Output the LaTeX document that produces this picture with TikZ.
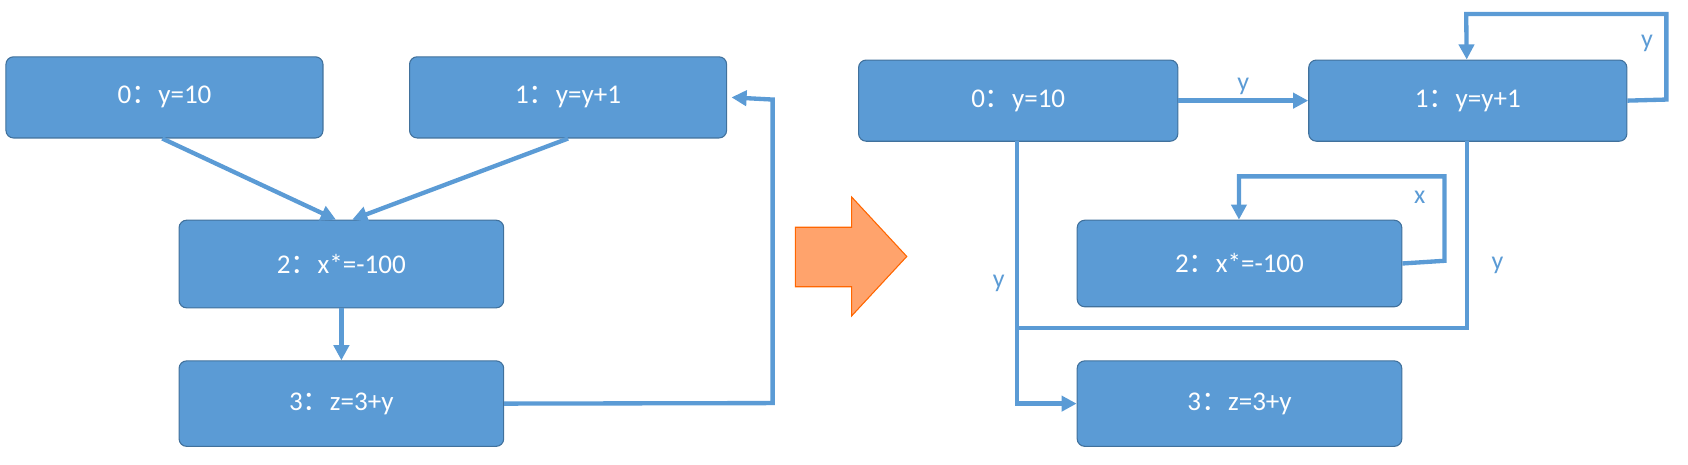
\documentclass[tikz,border=0pt]{standalone}
\usepackage{fontspec}
\setmainfont{Carlito}
\newfontfamily\cjk{Noto Sans CJK SC}
\usetikzlibrary{arrows.meta}
\definecolor{bfill}{HTML}{5B9BD5}
\definecolor{bdraw}{HTML}{41719C}
\newcommand{\cc}{{\cjk ：}}
\begin{document}
\begin{tikzpicture}[x=1pt,y=-1pt,
 box/.style={draw=bdraw,line width=1pt,fill=bfill,rounded corners=7pt,text=white,font=\fontsize{25}{30}\selectfont,minimum width=293pt,minimum height=75pt,anchor=north west},
 ln/.style={draw=bfill,line width=4pt,-{Triangle[length=14pt,width=14pt]}},
 lb/.style={text=bfill,font=\fontsize{24}{28}\selectfont}]
\useasboundingbox (0,0) rectangle (1560,429);
\node[box] (l0) at (5,52) {0\cc y=10};
\node[box] (l1) at (378,52) {1\cc y=y+1};
\node[box,minimum width=300pt,minimum height=81pt] (l2) at (165,203) {2\cc x*=-100};
\node[box,minimum width=300pt,minimum height=79pt] (l3) at (165,333) {3\cc z=3+y};
\node[box,minimum width=295pt] (r0) at (793,55) {0\cc y=10};
\node[box,minimum width=294pt] (r1) at (1209,55) {1\cc y=y+1};
\node[box,minimum width=300pt,minimum height=80pt] (r2) at (995,203) {2\cc x*=-100};
\node[box,minimum width=300pt,minimum height=79pt] (r3) at (995,333) {3\cc z=3+y};
\fill[fill=orange!50!white!85!red,draw=orange!80!red,line width=1pt]
 (735,210) -- (787,210) -- (787,182) -- (838,237) -- (787,292) -- (787,265) -- (735,265) -- cycle;
\draw[ln] ([xshift=-2pt]l0.south) -- ([xshift=-5pt]l2.north);
\draw[ln] ([xshift=0pt]l1.south) -- ([xshift=10pt]l2.north);
\draw[ln] (l2.south) -- (l3.north);
\draw[ln] (l3.east) -- (714,372.5) -- (714,92) -- ([xshift=4pt]l1.east);
\draw[ln] (r0.east) -- node[lb,above]{y} (r1.west);
\draw[ln] (r1.east) -- (1540,92) -- (1540,13) -- (1355,13) -- ([xshift=-1pt]r1.north);
\node[lb] (ly1) at (1522,40) {y};
\draw[ln] (r2.east) -- (1335,241) -- (1335,163) -- (1145,163) -- (1145,203);
\node[lb] (lx) at (1312,182) {x};
\coordinate (j) at (940,303);
\draw[ln] (940,130) -- (940,373) -- (r3.west);
\node[lb] (ly2) at (923,262) {y};
\draw[draw=bfill,line width=4pt] (1356,130) -- (1356,303) -- (j);
\node[lb] (ly3) at (1384,245) {y};
\end{tikzpicture}
\end{document}
